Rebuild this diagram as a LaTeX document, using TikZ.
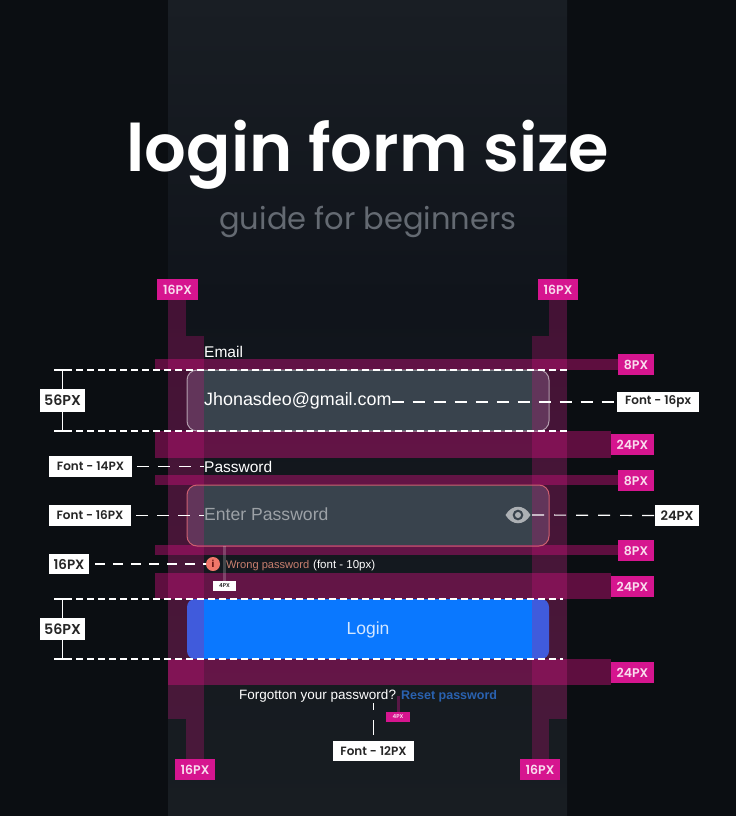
\documentclass[tikz,border=0pt]{standalone}
\usepackage{fontspec}
\setmainfont{Liberation Sans}
\newfontfamily\popm{Poppins Medium}
\newfontfamily\pops{Poppins SemiBold}
\newfontfamily\popr{Poppins}
\usetikzlibrary{calc}
\definecolor{bgside}{HTML}{0B0E12}
\definecolor{coltop}{HTML}{191E24}
\definecolor{colmid}{HTML}{10141B}
\definecolor{colbot}{HTML}{181D22}
\definecolor{mag}{HTML}{D6158F}
\definecolor{barmag}{HTML}{D2107E}
\definecolor{field}{HTML}{39434D}
\definecolor{btn}{HTML}{0A78FF}
\tikzset{
  vbar/.style={fill=barmag,fill opacity=.27,draw=none},
  hbar/.style={fill=barmag,fill opacity=.42,draw=none},
  magtag/.style={fill=mag,text=white!85!mag,inner sep=0pt,font=\pops\fontsize{12.5}{14}\selectfont},
  whitetag/.style={fill=white,text=black!85,inner sep=0pt,font=\pops\fontsize{12}{14}\selectfont},
  guide/.style={draw=white!80,line width=1.3pt,dash pattern=on 7pt off 4pt},
  lead/.style={draw=white!78,line width=1.2pt,dash pattern=on 12pt off 9pt},
  tick/.style={draw=white!88,line width=1.4pt},
  formtext/.style={anchor=base west,inner sep=0pt,text=white!92}
}
\newcommand{\plab}[7]{% style, name, x0,y0,x1,y1, text
  \node[#1,minimum width=#5pt-#3pt,minimum height=#6pt-#4pt] (#2) at ({(#3+#5)/2},{(#4+#6)/2}) {#7};}
\begin{document}
\begin{tikzpicture}[x=1pt,y=-1pt]
\useasboundingbox (0,0) rectangle (736,816);
\fill[bgside] (0,0) rectangle (736,816);
\fill[top color=coltop,bottom color=colmid] (168,0) rectangle (567,300);
\fill[top color=colmid,bottom color=colbot] (168,300) rectangle (567,816);
% form fields
\fill[field] (187,370) [rounded corners=10pt] rectangle (549,431);
\fill[field] (187,485) [rounded corners=10pt] rectangle (549,546);
\fill[btn] (187,599) [rounded corners=8pt] rectangle (549,659);
% vertical spacing bars
\path[vbar] (168,300) rectangle (186,719);
\path[vbar] (186,336) rectangle (204,759);
\path[vbar] (532,336) rectangle (549,759);
\path[vbar] (549,300) rectangle (567,719);
% horizontal spacing bars
\path[hbar] (155,359) rectangle (618,370);
\path[hbar] (155,431) rectangle (611,458);
\path[hbar] (155,475) rectangle (618,485);
\path[hbar] (155,545) rectangle (618,555);
\path[hbar] (155,573) rectangle (611,599);
\path[hbar] (168,659) rectangle (611,685);
% field outlines
\draw[white,opacity=.55,line width=1pt,rounded corners=10pt] (187,370) rectangle (549,431);
\draw[color={rgb,255:red,205;green,95;blue,112},line width=1pt,rounded corners=10pt] (187,485) rectangle (549,546);
% title
\node[anchor=base,inner sep=0pt,text=white,font=\pops\fontsize{65.5}{80}\selectfont] (title) at (368,171) {login form size};
\node[anchor=base,inner sep=0pt,text={rgb,255:red,100;green,106;blue,114},font=\popr\fontsize{30.5}{40}\selectfont] (sub) at (368,229) {guide for beginners};
% form texts
\node[formtext,font=\fontsize{15.5}{18}\selectfont] (email) at (204,357) {Email};
\node[formtext,font=\fontsize{17.9}{20}\selectfont] (emailv) at (204,405) {Jhonasdeo@gmail.com};
\node[formtext,font=\fontsize{15.5}{18}\selectfont] (pw) at (204,472) {Password};
\node[formtext,font=\fontsize{17.6}{20}\selectfont,text=white!50!field] (pwv) at (204,520) {Enter Password};
\node[formtext,font=\fontsize{11.1}{13}\selectfont,text={rgb,255:red,201;green,128;blue,111}] (wrong) at (226,568) {Wrong password};
\node[formtext,font=\fontsize{11.5}{13}\selectfont] (wrongf) at (313,568) {(font - 10px)};
\node[circle,fill={rgb,255:red,240;green,119;blue,106},minimum size=14pt,inner sep=0pt,text=black!70!red,font=\bfseries\fontsize{10}{10}\selectfont] (info) at (213,564) {i};
\node[anchor=center,inner sep=0pt,text=white!82!btn,font=\fontsize{17.5}{20}\selectfont] (login) at (368,630) {Login};
\node[formtext,font=\fontsize{13.5}{16}\selectfont,text=white!82] (forgot) at (239,699) {Forgotton your password?};
\node[formtext,font=\bfseries\fontsize{12.5}{16}\selectfont,text={rgb,255:red,42;green,98;blue,176}] (reset) at (401,699) {Reset password};
% eye icon
\coordinate (eye) at (518,515);
\fill[white!58!field,even odd rule] ($(eye)+(-12.5,0)$) .. controls ($(eye)+(-6,-11)$) and ($(eye)+(6,-11)$) .. ($(eye)+(12.5,0)$) .. controls ($(eye)+(6,11)$) and ($(eye)+(-6,11)$) .. ($(eye)+(-12.5,0)$) -- cycle (eye) circle (5.5pt);
\fill[white!58!field] (eye) circle (3pt);
% labels
\plab{magtag}{ml}{157}{279}{198}{300}{16PX}
\plab{magtag}{mr}{538}{279}{578}{300}{16PX}
\plab{magtag}{ma}{618}{354}{654}{375}{8PX}
\plab{magtag}{mb}{611}{434}{654}{455}{24PX}
\plab{magtag}{mc}{618}{470}{654}{491}{8PX}
\plab{magtag}{md}{618}{540}{654}{561}{8PX}
\plab{magtag}{me}{611}{576}{654}{597}{24PX}
\plab{magtag}{mf}{611}{662}{654}{683}{24PX}
\plab{magtag}{mg}{175}{759}{215}{780}{16PX}
\plab{magtag}{mh}{520}{759}{560}{780}{16PX}
\plab{magtag,font=\pops\fontsize{5.5}{6}\selectfont}{mi}{386}{712}{410}{722}{4PX}
\plab{whitetag,font=\pops\fontsize{5.5}{6}\selectfont}{wi}{213}{581}{236}{591}{4PX}
\plab{whitetag,font=\pops\fontsize{14.3}{16}\selectfont}{wa}{40}{389}{85}{412}{56PX}
\plab{whitetag}{wb}{49}{456}{132}{477}{Font - 14PX}
\plab{whitetag}{wc}{49}{505}{131}{526}{Font - 16PX}
\plab{whitetag,font=\pops\fontsize{13.5}{16}\selectfont}{wd}{49}{554}{89}{574}{16PX}
\plab{whitetag,font=\pops\fontsize{14.3}{16}\selectfont}{we}{40}{618}{85}{640}{56PX}
\plab{whitetag}{wf}{617}{392}{699}{412}{Font - 16px}
\plab{whitetag,font=\pops\fontsize{13}{16}\selectfont}{wg}{655}{505}{699}{526}{24PX}
\plab{whitetag}{wh}{333}{741}{414}{761}{Font - 12PX}
% guides
\coordinate (g1a) at (54,370); \coordinate (g1b) at (567,370);
\coordinate (g2a) at (54,431); \coordinate (g2b) at (567,431);
\coordinate (g3a) at (54,599); \coordinate (g3b) at (563,599);
\coordinate (g4a) at (54,659); \coordinate (g4b) at (563,659);
\draw[guide] (g1a) -- (g1b);
\draw[guide] (g2a) -- (g2b);
\draw[guide] (g3a) -- (g3b);
\draw[guide] (g4a) -- (g4b);
% 56px brackets
\coordinate (t1) at (62.5,370); \coordinate (t2) at (62.5,431);
\coordinate (t3) at (62.5,599); \coordinate (t4) at (62.5,659);
\draw[tick] (t1) -- (wa.north); \draw[tick] (wa.south) -- (t2);
\draw[tick] (t3) -- (we.north); \draw[tick] (we.south) -- (t4);
\draw[tick] (54,370) -- (71,370); \draw[tick] (54,431) -- (71,431);
\draw[tick] (54,599) -- (71,599); \draw[tick] (54,659) -- (71,659);
% leaders
\draw[lead] (emailv.east |- wf.west) -- (wf.west);
\draw[lead] (wb.east) ++(5,0) -- (pw.west |- wb.east);
\draw[lead] (wc.east) ++(5,0) -- (pwv.west |- wc.east);
\draw[lead,dash pattern=on 10pt off 8pt] (wd.east) ++(6,0) -- (info.west);
\draw[lead,dash pattern=on 12pt off 10pt] ($(eye)+(14,0)$) -- (wg.west);
\coordinate (fa) at (373,703); \coordinate (fb) at (373,710);
\coordinate (fc) at (373,720);
\draw[tick,line width=1pt] (fa) -- (fb);
\draw[tick,line width=1pt] (fc) -- (373,735);
% thin 4px markers
\draw[white,opacity=.2,line width=3pt] (224,546) -- (wi.north -| 224,546);
\draw[mag,opacity=.35,line width=3pt] (398,696) -- (398,712);
\end{tikzpicture}
\end{document}
